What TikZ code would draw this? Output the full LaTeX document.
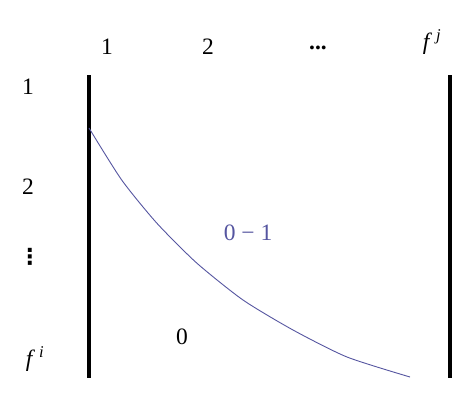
\documentclass[tikz,border=0pt]{standalone}
\usepackage{fontspec}
\setmainfont{Liberation Serif}
\newfontfamily\dvsans{DejaVu Sans}
\begin{document}
\begin{tikzpicture}[x=1pt,y=-1pt,
  lbl/.style={font=\fontsize{23.5}{26}\selectfont, inner sep=0pt, anchor=center},
  bar/.style={line width=3.2pt, black},
  curvecol/.style={color={rgb,255:red,85;green,85;blue,160}}]
\useasboundingbox (0,0) rectangle (474,402);
% column labels
\node[lbl] (c1) at (107,47) {1};
\node[lbl] (c2) at (208,47) {2};
\node[lbl] (c3) at (318,48) {\textbf{...}};
\node[lbl] (c4) at (432,42) {\textit{f}\,\textsuperscript{\textit{j}}};
% row labels
\node[lbl] (r1) at (28,87) {1};
\node[lbl] (r2) at (28,187) {2};
\node[lbl, font=\dvsans\bfseries\fontsize{22}{24}\selectfont] (r3) at (30,257) {⋮};
\node[lbl] (r4) at (35,359) {\textit{f}\,\textsuperscript{\textit{i}}};
% bars
\coordinate (lt) at (89,75);
\coordinate (lb) at (89,378);
\coordinate (rt) at (450,75);
\coordinate (rb) at (450,378);
\draw[bar] (lt) -- (lb);
\draw[bar] (rt) -- (rb);
% curve
\draw[curvecol, line width=0.9pt] plot[smooth, tension=0.4] coordinates {
 (89,128) (121.7,180) (156.7,223) (196.7,263) (243,300) (293,330) (347,357) (410,377)};
% region labels
\node[lbl, curvecol] (a) at (248,233) {0 − 1};
\node[lbl] (b) at (182,337) {0};
\end{tikzpicture}
\end{document}
